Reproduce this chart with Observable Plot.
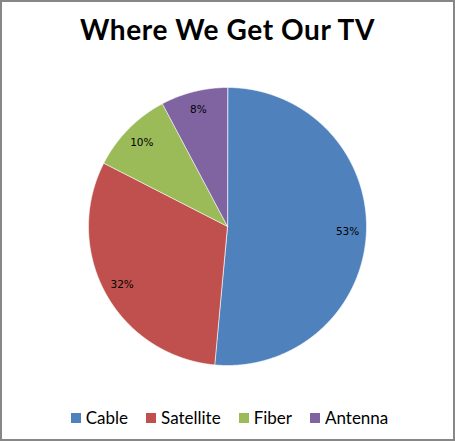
<!DOCTYPE html>
<html><head><meta charset="utf-8">
<script src="https://cdn.jsdelivr.net/npm/d3@7"></script>
<script src="https://cdn.jsdelivr.net/npm/@observablehq/plot@0.6"></script>
<style>
html,body{margin:0;padding:0;background:#fff;}
#chart{position:relative;width:455px;height:441px;box-sizing:border-box;border:2px solid #878787;overflow:hidden;background:#fff;}
#title{position:absolute;left:0;right:0;top:13px;line-height:28px;text-align:center;font-family:Lato,sans-serif;font-weight:700;font-size:28px;letter-spacing:0.6px;color:#000;}
#plot{position:absolute;left:0;top:68px;}
#legend{position:absolute;left:4px;right:0;top:408px;display:flex;justify-content:center;gap:18px;font-family:Lato,sans-serif;font-size:17px;line-height:16px;color:#000;}
.item{display:flex;align-items:center;gap:5px;}
.sw{width:10px;height:10px;display:inline-block;}
</style></head>
<body>
<div id="chart">
  <div id="title"></div>
  <div id="plot"></div>
  <div id="legend"></div>
</div>
<script>
const titleText = "Where We Get Our TV";
const categories = ["Cable", "Satellite", "Fiber", "Antenna"];
const values = [53, 32, 10, 8];
const labels = ["53%", "32%", "10%", "8%"];
const colors = ["#4F81BD", "#C0504D", "#9BBB59", "#8064A2"];

document.getElementById("title").textContent = titleText;

const W = 451, H = 312, cx = 225, cy = 156, R = 139;
const data = categories.map((c, i) => ({name: c, value: values[i], label: labels[i]}));
const arcs = d3.pie().sort(null).value(d => d.value)(data);

const pts = [];
arcs.forEach(a => {
  pts.push({name: a.data.name, x: 0, y: 0});
  const n = Math.max(2, Math.ceil((a.endAngle - a.startAngle) / 0.005));
  for (let k = 0; k <= n; k++) {
    const t = a.startAngle + (a.endAngle - a.startAngle) * k / n;
    pts.push({name: a.data.name, x: Math.sin(t), y: Math.cos(t)});
  }
});
const lr = 0.865;
const labelPts = arcs.map(a => {
  const m = (a.startAngle + a.endAngle) / 2;
  return {label: a.data.label, x: lr * Math.sin(m), y: lr * Math.cos(m)};
});

const plot = Plot.plot({
  width: W, height: H,
  margin: 0,
  x: {domain: [-cx / R, (W - cx) / R], axis: null},
  y: {domain: [-(H - cy) / R, cy / R], axis: null},
  color: {domain: categories, range: colors},
  style: {background: "transparent", overflow: "visible"},
  marks: [
    Plot.line(pts, {x: "x", y: "y", z: "name", fill: "name", stroke: "#ffffff", strokeWidth: 0.8, strokeOpacity: 0.8, curve: "linear-closed"}),
    Plot.text(labelPts, {x: "x", y: "y", text: "label", fontSize: 10.5, fontFamily: "DejaVu Sans", fill: "#000"})
  ]
});
document.getElementById("plot").appendChild(plot);

const legend = document.getElementById("legend");
categories.forEach((c, i) => {
  const it = document.createElement("div");
  it.className = "item";
  const sw = document.createElement("span");
  sw.className = "sw";
  sw.style.background = colors[i];
  const tx = document.createElement("span");
  tx.textContent = c;
  it.appendChild(sw); it.appendChild(tx);
  legend.appendChild(it);
});
</script>
</body></html>
